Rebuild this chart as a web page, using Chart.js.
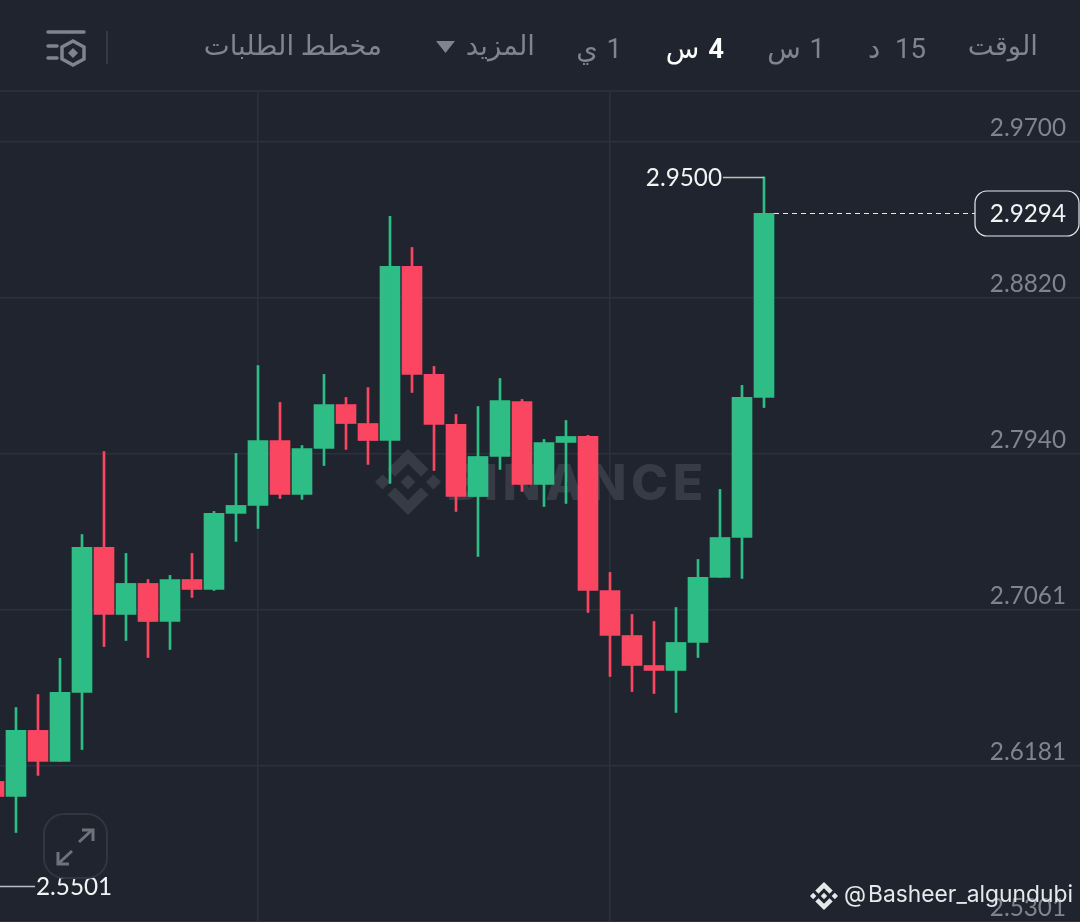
<!DOCTYPE html>
<html lang="ar">
<head>
<meta charset="utf-8">
<title>4h chart</title>
<script src="https://cdn.jsdelivr.net/npm/chart.js@4"></script>
<style>
  html, body { margin: 0; padding: 0; background: #1f242f; }
  #page { position: relative; width: 1080px; height: 922px; overflow: hidden; }
  canvas { position: absolute; left: 0; top: 0; }
  #header { position: absolute; left: 0; top: 0; width: 1080px; height: 90px; border-bottom: 2px solid #2a2f3a; z-index: 2; box-sizing: content-box; }
  .tab { position: absolute; line-height: 40px; font-family: Roboto, "DejaVu Sans", sans-serif; font-size: 27.5px; color: #7f848e; white-space: nowrap; direction: rtl; word-spacing: 2px; }
  .tab.on { color: #fff; }
  .tab.on b { font-weight: 700; }
  #tools { position: absolute; left: 0; top: 0; z-index: 2; }
</style>
</head>
<body>
<div id="page">
  <canvas id="chart" width="1080" height="922"></canvas>
  <div id="header">
    <span class="tab" style="right:42px;top:26px">الوقت</span>
    <span class="tab" style="right:154px;top:29px;word-spacing:8px">15 د</span>
    <span class="tab" style="right:255px;top:29px">1 س</span>
    <span class="tab on" style="right:356px;top:29px"><b>4</b> س</span>
    <span class="tab" style="right:458px;top:29px">1 ي</span>
    <span class="tab" style="right:545px;top:26px">المزيد</span>
    <span class="tab" style="right:698px;top:26px;word-spacing:0">مخطط الطلبات</span>
  </div>
  <svg id="tools" width="1080" height="922">
    <path d="M436 41 H455 L445.5 53 Z" fill="#7f848e"/>
    <g fill="none" stroke="#7f848e" stroke-width="3.5" stroke-linecap="round">
      <path d="M48 32 H84"/>
      <path d="M48 46 H57"/>
      <path d="M48 58 H57"/>
      <path d="M73 41 L84 47 V59 L73 65 L62 59 V47 Z"/>
    </g>
    <path d="M73 48 L78 53 L73 58 L68 53 Z" fill="#7f848e"/>
    <path d="M107 31 V64" stroke="#343945" stroke-width="2"/>
    <rect x="44" y="814" width="63" height="64" rx="20" fill="none" stroke="#323641" stroke-width="2"/>
    <g fill="none" stroke="#6e727b" stroke-width="3">
      <path d="M79 842 L92 830"/>
      <path d="M82 830 H93 V841"/>
      <path d="M72 851 L59 863"/>
      <path d="M58 852 V864 H69"/>
    </g>
  </svg>
</div>
<script>
// candles, oldest first
const opens = [2.6090, 2.6005, 2.6378, 2.6203, 2.6592, 2.7410, 2.7032, 2.7207, 2.6992, 2.7229, 2.7173, 2.7602, 2.7647, 2.8013, 2.7709, 2.7968, 2.8216, 2.8109, 2.8013, 2.8995, 2.8386, 2.8104, 2.7697, 2.7923, 2.8233, 2.7765, 2.8002, 2.8036, 2.7167, 2.6913, 2.6744, 2.6716, 2.6874, 2.7241, 2.7466, 2.8256]
const closes = [2.6005, 2.6378, 2.6203, 2.6592, 2.7410, 2.7032, 2.7207, 2.6992, 2.7229, 2.7173, 2.7602, 2.7647, 2.8013, 2.7709, 2.7968, 2.8216, 2.8109, 2.8013, 2.8995, 2.8386, 2.8104, 2.7697, 2.7923, 2.8239, 2.7765, 2.8002, 2.8036, 2.7167, 2.6913, 2.6744, 2.6716, 2.6874, 2.7241, 2.7466, 2.8256, 2.9294]
const highs = [2.6100, 2.6507, 2.6580, 2.6784, 2.7483, 2.7951, 2.7376, 2.7229, 2.7252, 2.7376, 2.7613, 2.7940, 2.8436, 2.8228, 2.7985, 2.8386, 2.8256, 2.8312, 2.9277, 2.9102, 2.8431, 2.8160, 2.8205, 2.8363, 2.8245, 2.8019, 2.8126, 2.8042, 2.7269, 2.7032, 2.6992, 2.7071, 2.7342, 2.7737, 2.8324, 2.9500]
const lows = [2.5990, 2.5802, 2.6124, 2.6203, 2.6270, 2.6851, 2.6885, 2.6789, 2.6834, 2.7128, 2.7167, 2.7444, 2.7517, 2.7686, 2.7681, 2.7872, 2.7963, 2.7878, 2.7771, 2.8284, 2.7844, 2.7613, 2.7359, 2.7850, 2.7726, 2.7641, 2.7658, 2.7043, 2.6682, 2.6597, 2.6586, 2.6479, 2.6789, 2.7241, 2.7235, 2.8199]

const priceTicks = [2.9700, 2.8820, 2.7940, 2.7061, 2.6181, 2.5301]
const timeGridCandles = [12, 28]
const lastPrice = 2.9294
const highMark = 2.9500
const lowMark = 2.5501

const up = '#2ebd85'
const down = '#fa4660'
const grid = '#2c313c'
const faint = '#7f848e'
const white = '#f2f3f5'
const numFont = '24.3px Lato, sans-serif'

const candleColors = opens.map((o, i) => closes[i] >= o ? up : down)

function logo(ctx, cx, cy, r, color) {
    let chevron = [[-0.394, -0.157], [0, -0.551], [0.394, -0.157], [0.622, -0.386], [0, -1], [-0.622, -0.386]]
    let diamond = (dx) => [[dx, -0.228], [dx + 0.228, 0], [dx, 0.228], [dx - 0.228, 0]]
    let shapes = [chevron, chevron.map(p => [p[0], -p[1]]), diamond(0), diamond(-0.772), diamond(0.772)]
    ctx.fillStyle = color
    shapes.forEach(s => {
        ctx.beginPath()
        s.forEach((p, i) => i ? ctx.lineTo(cx + p[0] * r, cy + p[1] * r) : ctx.moveTo(cx + p[0] * r, cy + p[1] * r))
        ctx.closePath()
        ctx.fill()
    })
}

const watermark = {
    id: 'watermark',
    beforeDatasetsDraw(chart) {
        let ctx = chart.ctx
        ctx.save()
        logo(ctx, 408, 482, 33, '#373b46')
        ctx.font = '800 50px Inter, sans-serif'
        ctx.letterSpacing = '4.5px'
        ctx.textAlign = 'left'
        ctx.textBaseline = 'alphabetic'
        ctx.fillStyle = '#373b46'
        ctx.fillText('BINANCE', 446, 500)
        ctx.restore()
    }
}

const marks = {
    id: 'marks',
    afterDatasetsDraw(chart) {
        let ctx = chart.ctx
        let y = chart.scales.y
        let x = chart.scales.x
        let last = opens.length - 1
        ctx.save()
        ctx.font = numFont
        ctx.textBaseline = 'middle'

        // session high
        let hy = Math.round(y.getPixelForValue(highMark)) + 0.5
        let hx = x.getPixelForValue(last)
        ctx.strokeStyle = '#bdbfc4'
        ctx.lineWidth = 1.5
        ctx.beginPath()
        ctx.moveTo(723, hy)
        ctx.lineTo(hx, hy)
        ctx.stroke()
        ctx.fillStyle = white
        ctx.textAlign = 'right'
        ctx.fillText(highMark.toFixed(4), 722, hy + 1)

        // session low
        let ly = Math.round(y.getPixelForValue(lowMark)) + 0.5
        ctx.beginPath()
        ctx.moveTo(0, ly)
        ctx.lineTo(35, ly)
        ctx.stroke()
        ctx.textAlign = 'left'
        ctx.fillText(lowMark.toFixed(4), 36, ly + 1)

        // last price line and tag
        let py = Math.round(y.getPixelForValue(lastPrice)) + 0.5
        ctx.strokeStyle = '#e8e9eb'
        ctx.lineWidth = 1.2
        ctx.setLineDash([5, 4])
        ctx.beginPath()
        ctx.moveTo(x.getPixelForValue(last) + 10, py)
        ctx.lineTo(975, py)
        ctx.stroke()
        ctx.setLineDash([])
        ctx.beginPath()
        ctx.roundRect(975, 191, 104, 45, 12)
        ctx.fillStyle = '#1f242f'
        ctx.fill()
        ctx.stroke()
        ctx.fillStyle = white
        ctx.textAlign = 'right'
        ctx.fillText(lastPrice.toFixed(4), 1066, py + 1)

        // attribution over the bottom tick
        logo(ctx, 824, 896, 14, '#e6e8ea')
        ctx.fillStyle = '#e6e8ea'
        ctx.textAlign = 'left'
        ctx.font = '22.8px Inter, sans-serif'
        ctx.fillText('@', 844, 895)
        ctx.fillText('Basheer_algundubi', 868, 895)
        ctx.restore()
    }
}

new Chart(document.getElementById('chart').getContext('2d'), {
    type: 'bar',
    data: {
        datasets: [{
            label: 'wick',
            data: opens.map((_, i) => ({ x: i, y: [lows[i], highs[i]] })),
            backgroundColor: candleColors,
            barThickness: 2
        }, {
            label: 'body',
            data: opens.map((o, i) => ({ x: i, y: [Math.min(o, closes[i]), Math.max(o, closes[i])] })),
            backgroundColor: candleColors,
            barThickness: 20
        }]
    },
    options: {
        responsive: false,
        animation: false,
        layout: { padding: { top: 92, left: 0, right: 0, bottom: 0 } },
        datasets: { bar: { grouped: false, borderWidth: 0 } },
        plugins: { legend: { display: false }, tooltip: { enabled: false } },
        scales: {
            x: {
                type: 'linear',
                offset: false,
                min: 0.2727,
                max: 49.3636,
                afterBuildTicks(scale) {
                    scale.ticks = timeGridCandles.map(v => ({ value: v }))
                },
                ticks: { display: false, autoSkip: false },
                grid: { offset: false, color: grid, lineWidth: 1.5, drawTicks: false },
                border: { display: false }
            },
            y: {
                position: 'right',
                min: 2.5297,
                max: 2.9979,
                afterBuildTicks(scale) {
                    scale.ticks = priceTicks.map(v => ({ value: v }))
                },
                afterFit(scale) {
                    scale.width = 0
                    scale.paddingTop = 0
                    scale.paddingBottom = 0
                },
                ticks: {
                    mirror: true,
                    padding: -14,
                    labelOffset: -13,
                    autoSkip: false,
                    color: faint,
                    font: { family: 'Lato, sans-serif', size: 24.3 },
                    callback: v => Number(v).toFixed(4)
                },
                grid: { color: grid, lineWidth: 1.5, drawTicks: false },
                border: { display: false }
            }
        }
    },
    plugins: [watermark, marks]
})
</script>
</body>
</html>
